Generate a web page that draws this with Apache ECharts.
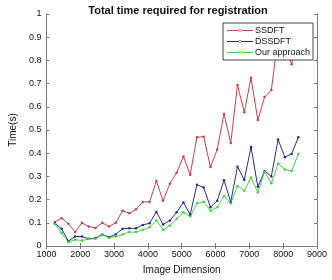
<!DOCTYPE html>
<html>
<head>
<meta charset="utf-8">
<script src="https://cdn.jsdelivr.net/npm/echarts@6/dist/echarts.min.js"></script>
<style>
body { margin: 0; background: #fff; }
#main { width: 332px; height: 280px; }
</style>
</head>
<body>
<div id="main"></div>
<script>
// image dimensions (x axis)
var dims = [1250, 1450, 1650, 1850, 2050, 2250, 2450, 2650, 2850, 3050,
	3250, 3450, 3650, 3850, 4050, 4250, 4450, 4650, 4850, 5050,
	5250, 5450, 5650, 5850, 6050, 6250, 6450, 6650, 6850, 7050,
	7250, 7450, 7650, 7850, 8050, 8250, 8450];
var ssdft = [0.103, 0.12, 0.096, 0.06, 0.10, 0.084, 0.078, 0.10, 0.084, 0.10,
	0.152, 0.141, 0.158, 0.19, 0.19, 0.28, 0.195, 0.268, 0.316, 0.386,
	0.307, 0.469, 0.471, 0.34, 0.416, 0.57, 0.444, 0.694, 0.577, 0.725,
	0.543, 0.642, 0.672, 0.90, 0.86, 0.783, 0.93];
var dssdft = [0.098, 0.074, 0.021, 0.041, 0.041, 0.031, 0.034, 0.05, 0.038, 0.05,
	0.074, 0.076, 0.076, 0.091, 0.098, 0.147, 0.093, 0.11, 0.145, 0.188,
	0.135, 0.264, 0.252, 0.167, 0.195, 0.283, 0.19, 0.342, 0.285, 0.427,
	0.255, 0.323, 0.3, 0.459, 0.383, 0.397, 0.469];
var ours = [0.095, 0.056, 0.017, 0.027, 0.024, 0.03, 0.031, 0.048, 0.036, 0.041,
	0.05, 0.06, 0.06, 0.07, 0.081, 0.11, 0.07, 0.088, 0.117, 0.145,
	0.127, 0.184, 0.191, 0.152, 0.167, 0.216, 0.184, 0.259, 0.238, 0.295,
	0.231, 0.32, 0.27, 0.355, 0.33, 0.323, 0.397];
var names = ['SSDFT', 'DSSDFT', 'Our approach'];
var colors = ['#c4424a', '#2b2d86', '#3fd43f'];

function pairs(ys) {
	var out = [];
	for (var i = 0; i < dims.length; i++) {
		out.push([dims[i], ys[i]]);
	}
	return out;
}

var myChart = echarts.init(document.getElementById('main'));
var font = 'Liberation Sans, Arial, sans-serif';
var frame = { show: true, lineStyle: { color: '#7a7a7a', width: 1 } };
var ticksIn = { show: true, inside: true, length: 3, lineStyle: { color: '#7a7a7a' } };
// thin line with a small dot in the middle, like the matlab legend
var legendIcon = 'path://M0,4.6 L26,4.6 L26,5.4 L0,5.4 Z M11.8,5 A1.2,1.2 0 1 0 14.2,5 A1.2,1.2 0 1 0 11.8,5 Z';

var seriesList = [];
var lists = [ssdft, dssdft, ours];
for (var k = 0; k < lists.length; k++) {
	seriesList.push({
		name: names[k],
		type: 'line',
		data: pairs(lists[k]),
		symbol: 'circle',
		symbolSize: 2.5,
		showSymbol: true,
		lineStyle: { width: 1, color: colors[k] },
		itemStyle: { color: colors[k] },
		animation: false
	});
}

var option = {
	animation: false,
	textStyle: { fontFamily: font },
	title: {
		text: 'Total time required for registration',
		left: 173,
		textAlign: 'center',
		top: 0,
		textStyle: { fontSize: 11, fontWeight: 'bold', color: '#111', fontFamily: font }
	},
	legend: {
		data: names.map(function(n) { return { name: n, icon: legendIcon }; }),
		orient: 'vertical',
		left: 223,
		top: 23,
		padding: [3, 3, 3, 4],
		itemGap: 2,
		itemWidth: 26,
		itemHeight: 10,
		borderColor: '#444',
		borderWidth: 1,
		borderRadius: 0,
		backgroundColor: '#fff',
		textStyle: { fontSize: 9, color: '#111', fontFamily: font, padding: [0, 0, 0, -3] }
	},
	grid: { left: 30, right: 15, top: 14, bottom: 31 },
	xAxis: [{
		type: 'value',
		min: 1000, max: 9000, interval: 1000,
		name: 'Image Dimension',
		nameLocation: 'middle',
		nameGap: 19,
		nameTextStyle: { fontSize: 10, color: '#111' },
		axisLine: frame,
		axisTick: ticksIn,
		axisLabel: { fontSize: 9, color: '#111', margin: 4, formatter: function(v) { return String(v); } },
		splitLine: { show: false }
	}, {
		type: 'value', position: 'top',
		min: 1000, max: 9000, interval: 1000,
		axisLine: frame, axisTick: ticksIn,
		axisLabel: { show: false }, splitLine: { show: false }
	}],
	yAxis: [{
		type: 'value',
		min: 0, max: 1, interval: 0.1,
		name: 'Time(s)',
		nameLocation: 'middle',
		nameGap: 20,
		nameTextStyle: { fontSize: 10, color: '#111' },
		axisLine: frame,
		axisTick: ticksIn,
		axisLabel: { fontSize: 9, color: '#111', margin: 5 },
		splitLine: { show: false }
	}, {
		type: 'value', position: 'right',
		min: 0, max: 1, interval: 0.1,
		axisLine: frame, axisTick: ticksIn,
		axisLabel: { show: false }, splitLine: { show: false }
	}],
	series: seriesList
};
myChart.setOption(option);
</script>
</body>
</html>
